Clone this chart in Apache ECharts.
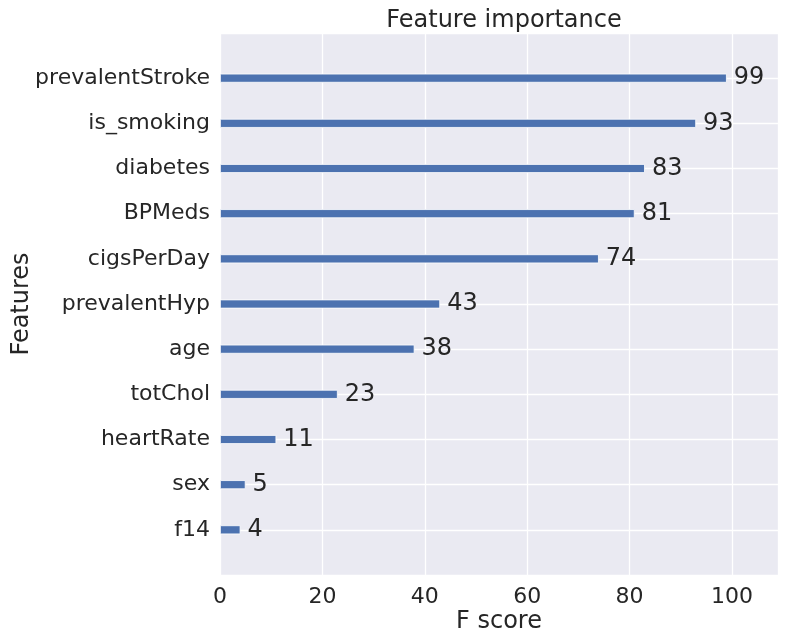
<!DOCTYPE html>
<html>
<head>
<meta charset="utf-8">
<script src="https://cdn.jsdelivr.net/npm/echarts@6/dist/echarts.min.js"></script>
<style>
  html, body { margin: 0; padding: 0; background: #fff; }
  #chart { width: 785px; height: 640px; }
</style>
</head>
<body>
<div id="chart"></div>
<script>
/* 데이터: 아래에서 위 순서 (f14 -> prevalentStroke) */
const features = ['f14', 'sex', 'heartRate', 'totChol', 'age', 'prevalentHyp',
  'cigsPerDay', 'BPMeds', 'diabetes', 'is_smoking', 'prevalentStroke'];
const fScores = [4, 5, 11, 23, 38, 43, 74, 81, 83, 93, 99];
const xTicks = [0, 20, 40, 60, 80, 100];

const FONT = "'DejaVu Sans', sans-serif";
const TEXT = '#262626';

// matplotlib ylim(-1, n) 재현용 빈 카테고리 앞뒤로 추가
const cats = [''].concat(features, ['']);
const vals = [null].concat(fScores, [null]);

const chart = echarts.init(document.getElementById('chart'), null, { renderer: 'canvas' });

chart.setOption({
  backgroundColor: '#ffffff',
  animation: false,
  title: {
    text: 'Feature importance',
    left: 499, top: 4,
    textAlign: 'center',
    textStyle: { fontFamily: FONT, fontSize: 24, fontWeight: 'normal', color: TEXT },
  },
  grid: {
    left: 220, top: 33, right: 7, bottom: 65,
    containLabel: false, outerBoundsMode: 'none',
    backgroundColor: '#EAEAF2', show: true, borderWidth: 0,
  },
  xAxis: {
    type: 'value',
    min: 0, max: 109, interval: 20,
    name: 'F score', nameLocation: 'middle', nameGap: 35, nameMoveOverlap: false,
    nameTextStyle: { fontFamily: FONT, fontSize: 24, color: TEXT },
    axisLine: { show: false }, axisTick: { show: false },
    axisLabel: {
      fontFamily: FONT, fontSize: 22, color: TEXT, margin: 11,
      formatter: v => xTicks.includes(v) ? String(v) : '',
    },
    splitLine: { show: true, lineStyle: { color: '#ffffff', width: 1.3 } },
  },
  yAxis: {
    type: 'category',
    data: cats,
    boundaryGap: false,
    name: 'Features', nameLocation: 'middle', nameGap: 186, nameRotate: 90, nameMoveOverlap: false,
    nameTextStyle: { fontFamily: FONT, fontSize: 24, color: TEXT },
    axisLine: { show: false }, axisTick: { show: false },
    axisLabel: { fontFamily: FONT, fontSize: 22, color: TEXT, margin: 10 },
    splitLine: { show: true, lineStyle: { color: '#ffffff', width: 1.3 } },
  },
  series: [{
    type: 'bar',
    data: vals,
    barWidth: 9,
    itemStyle: { color: '#4C72B0', borderColor: '#ffffff', borderWidth: 0.8 },
    label: {
      show: true, position: 'right', distance: 7,
      fontFamily: FONT, fontSize: 24, color: TEXT,
    },
  }],
});
</script>
</body>
</html>
